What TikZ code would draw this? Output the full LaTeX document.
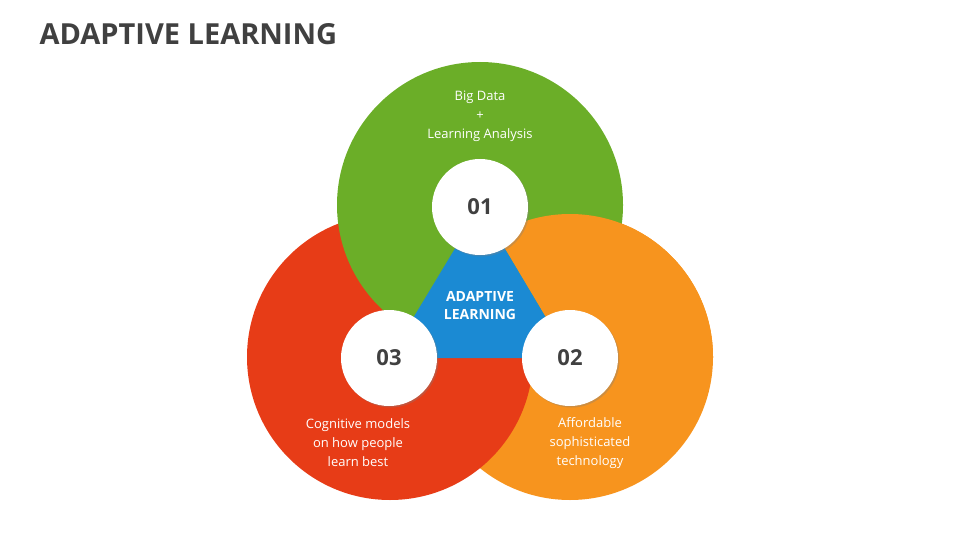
\documentclass[tikz,border=0pt]{standalone}
\usepackage{fontspec}
\setmainfont{Open Sans}
\usetikzlibrary{shadows}
\definecolor{cgreen}{HTML}{6BAE28}
\definecolor{corange}{HTML}{F7941E}
\definecolor{cred}{HTML}{E73C17}
\definecolor{cblue}{HTML}{1B8AD3}
\definecolor{ctitle}{HTML}{404040}
\definecolor{cnum}{HTML}{404040}
\tikzset{
 big/.style={circle,minimum size=286pt,inner sep=0pt},
 num/.style={circle,fill=white,minimum size=96pt,inner sep=0pt,font=\fontsize{22}{26}\selectfont\bfseries,text=cnum,drop shadow={opacity=0.35,shadow xshift=1.5pt,shadow yshift=-1.5pt}},
 lbl/.style={align=center,text=white,font=\fontsize{13}{19}\selectfont}
}
\begin{document}
\begin{tikzpicture}[x=1pt,y=-1pt]
\useasboundingbox (0,0) rectangle (960,540);
\node[anchor=west,text=ctitle,font=\fontsize{29}{32}\selectfont\bfseries] (title) at (36,34) {ADAPTIVE LEARNING};
\node[big,fill=corange] (O) at (570,357) {};
\node[big,fill=cred] (R) at (390,357) {};
\node[big,fill=cgreen] (G) at (480,205) {};
\begin{scope}
\clip (480,207) -- (570,358) -- (900,358) -- (900,0) -- (480,0) -- cycle;
\fill[corange] (570,357) circle (143);
\end{scope}
\fill[cblue] (480,207) -- (570,358) -- (389,358) -- cycle;
\node[num] (n1) at (480,207) {01};
\node[num] (n2) at (570,358) {02};
\node[num] (n3) at (389,358) {03};
\node[lbl,font=\fontsize{14}{18}\selectfont\bfseries] (c) at (480,306) {ADAPTIVE\\LEARNING};
\node[lbl] (lg) at (480,116) {Big Data\\+\\Learning Analysis};
\node[lbl] (lr) at (358,443) {Cognitive models\\on how people\\learn best};
\node[lbl] (lo) at (590,443) {Affordable\\sophisticated\\technology};
\end{tikzpicture}
\end{document}
